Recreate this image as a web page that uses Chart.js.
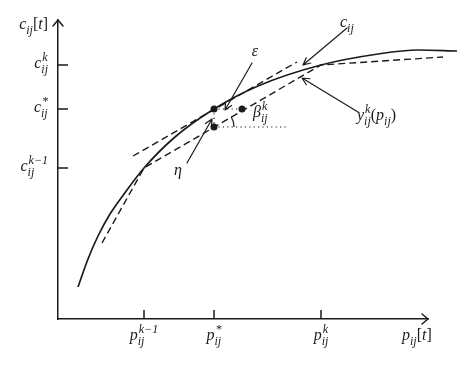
<!DOCTYPE html>
<html><head><meta charset="utf-8">
<script src="https://cdn.jsdelivr.net/npm/chart.js@4"></script>
<style>html,body{margin:0;padding:0;background:#fff}canvas{display:block}</style>
</head><body>
<canvas id="c" width="474" height="366"></canvas>
<script>
// ---- data (schematic units: x = p_ij, y = c_ij) ----
const curveP   = [20, 30, 40, 52, 66, 86, 117, 156, 200, 263, 320, 360, 399];
const curveC   = [32, 60, 83, 105, 125, 151, 182, 210, 233, 254, 265, 269, 268];
const tangentP = [75, 239];
const tangentC = [163, 257];
const approxP  = [44, 86, 263, 385];
const approxC  = [76, 151, 254, 262];
const dotP     = [156, 156, 184];
const dotC     = [210, 192, 210];
const hLine1P  = [156, 184];
const hLine1C  = [210, 210];
const hLine2P  = [156, 229];
const hLine2C  = [192, 192];
const vLineP   = [156, 156];
const vLineC   = [210, 192];
const xTickVals = [86, 156, 263];
const yTickVals = [151, 210, 254];
const xTickLabels = [
  [{b:'p', sup:'k\u22121', sub:'ij'}],
  [{b:'p', sup:'*', sub:'ij'}],
  [{b:'p', sup:'k', sub:'ij'}]
];
const yTickLabels = [
  [{b:'c', sup:'k\u22121', sub:'ij'}],
  [{b:'c', sup:'*', sub:'ij'}],
  [{b:'c', sup:'k', sub:'ij'}]
];
const xAxisTitle = [{b:'p', sub:'ij'}, {b:'[', up:true}, {b:'t'}, {b:']', up:true}];
const yAxisTitle = [{b:'c', sub:'ij'}, {b:'[', up:true}, {b:'t'}, {b:']', up:true}];

// annotations: label anchor + arrow (from -> to), in data units
const notes = [
  {text:[{b:'c', sub:'ij'}], at:[282, 292], align:'left',
   from:[289, 291], to:[245, 254]},
  {text:[{b:'\u03b5'}], at:[197, 263], align:'center',
   from:[194, 256], to:[167, 209]},
  {text:[{b:'\u03b2', sup:'k', sub:'ij'}], at:[195, 202], align:'left'},
  {text:[{b:'y', sup:'k', sub:'ij'}, {b:'(', up:true}, {b:'p', sub:'ij'}, {b:')', up:true}], at:[299, 199], align:'left',
   from:[300, 207], to:[244, 241]},
  {text:[{b:'\u03b7'}], at:[120, 144], align:'center',
   from:[129, 156], to:[154, 200]}
];

const ink = '#1b1b1b';
const SERIF = '"Liberation Serif","DejaVu Serif",serif';
function fnt(sz, it){ return (it ? 'italic ' : '') + sz + 'px ' + SERIF; }

function layoutMath(ctx, tokens, size){
  let w = 0;
  const ss = Math.round(size*0.74);
  for (const t of tokens){
    ctx.font = fnt(size, !t.up);
    w += ctx.measureText(t.b).width;
    let sw = 0;
    ctx.font = fnt(ss, true);
    if (t.sup) sw = Math.max(sw, ctx.measureText(t.sup).width + 1);
    if (t.sub) sw = Math.max(sw, ctx.measureText(t.sub).width);
    w += sw;
  }
  return w;
}
function drawMath(ctx, tokens, x, y, align, size){
  size = size || 16;
  const ss = Math.round(size*0.74);
  const w = layoutMath(ctx, tokens, size);
  let cx = align === 'right' ? x - w : align === 'center' ? x - w/2 : x;
  ctx.save();
  ctx.fillStyle = ink; ctx.textAlign = 'left'; ctx.textBaseline = 'alphabetic';
  for (const t of tokens){
    ctx.font = fnt(size, !t.up);
    ctx.fillText(t.b, cx, y);
    cx += ctx.measureText(t.b).width;
    ctx.font = fnt(ss, true);
    let sw = 0;
    if (t.sup){ ctx.fillText(t.sup, cx + 1, y - 7); sw = Math.max(sw, ctx.measureText(t.sup).width + 1); }
    if (t.sub){ ctx.fillText(t.sub, cx, y + 5); sw = Math.max(sw, ctx.measureText(t.sub).width); }
    cx += sw;
  }
  ctx.restore();
}
function arrow(ctx, x1, y1, x2, y2, len){
  len = len || 8;
  const a = Math.atan2(y2 - y1, x2 - x1);
  ctx.beginPath();
  ctx.moveTo(x1, y1); ctx.lineTo(x2, y2);
  ctx.moveTo(x2 - len*Math.cos(a - 0.45), y2 - len*Math.sin(a - 0.45));
  ctx.lineTo(x2, y2);
  ctx.lineTo(x2 - len*Math.cos(a + 0.45), y2 - len*Math.sin(a + 0.45));
  ctx.stroke();
}

const decor = {
  id: 'decor',
  afterDraw(chart){
    const ctx = chart.ctx, xs = chart.scales.x, ys = chart.scales.y, A = chart.chartArea;
    const X = v => xs.getPixelForValue(v), Y = v => ys.getPixelForValue(v);
    ctx.save();
    ctx.strokeStyle = ink; ctx.lineCap = 'round'; ctx.lineJoin = 'round';
    // axis arrowheads
    ctx.lineWidth = 1.5;
    ctx.beginPath();
    ctx.moveTo(A.right - 6, A.bottom - 5); ctx.lineTo(A.right, A.bottom); ctx.lineTo(A.right - 6, A.bottom + 5);
    ctx.moveTo(A.left - 5, A.top + 6); ctx.lineTo(A.left, A.top); ctx.lineTo(A.left + 5, A.top + 6);
    ctx.stroke();
    // inward tick marks
    ctx.lineCap = 'butt';
    ctx.beginPath();
    xTickVals.forEach(v => { ctx.moveTo(X(v), A.bottom); ctx.lineTo(X(v), A.bottom - 9); });
    yTickVals.forEach(v => { ctx.moveTo(A.left, Y(v)); ctx.lineTo(A.left + 10, Y(v)); });
    ctx.stroke();
    // tick labels
    xTickVals.forEach((v, i) => drawMath(ctx, xTickLabels[i], X(v), A.bottom + 21, 'center'));
    yTickVals.forEach((v, i) => drawMath(ctx, yTickLabels[i], A.left - 10, Y(v) + 3, 'right'));
    drawMath(ctx, xAxisTitle, A.right - 26, A.bottom + 21, 'left');
    drawMath(ctx, yAxisTitle, A.left - 10, A.top + 9, 'right');
    // angle arc beta at eta point
    const cx = X(dotP[1]), cy = Y(dotC[1]);
    const ang = Math.atan2(Y(approxC[2]) - Y(approxC[1]), X(approxP[2]) - X(approxP[1]));
    ctx.lineWidth = 1.2;
    ctx.beginPath(); ctx.arc(cx, cy, 20, ang, 0); ctx.stroke();
    // annotations
    ctx.lineCap = 'round';
    notes.forEach(n => {
      drawMath(ctx, n.text, X(n.at[0]), Y(n.at[1]), n.align);
      if (n.from) arrow(ctx, X(n.from[0]), Y(n.from[1]), X(n.to[0]), Y(n.to[1]));
    });
    ctx.restore();
  }
};

const pts = (xa, ya) => xa.map((x, i) => ({x, y: ya[i]}));
const dotted = (xa, ya) => ({data: pts(xa, ya), showLine: true, borderColor: ink, borderWidth: 1.2,
  borderDash: [1.2, 3.2], pointRadius: 0, clip: false});

new Chart(document.getElementById('c'), {
  type: 'scatter',
  data: {
    datasets: [
      {data: pts(curveP, curveC), showLine: true, borderColor: ink, borderWidth: 1.7,
       pointRadius: 0, cubicInterpolationMode: 'monotone', clip: false},
      {data: pts(tangentP, tangentC), showLine: true, borderColor: ink, borderWidth: 1.4,
       borderDash: [7, 4], pointRadius: 0, clip: false},
      {data: pts(approxP, approxC), showLine: true, borderColor: ink, borderWidth: 1.4,
       borderDash: [7, 4], pointRadius: 0, tension: 0, clip: false},
      dotted(hLine1P, hLine1C),
      dotted(hLine2P, hLine2C),
      dotted(vLineP, vLineC),
      {data: pts(dotP, dotC), showLine: false, pointRadius: 3.5, pointBackgroundColor: ink,
       pointBorderWidth: 0, clip: false}
    ]
  },
  options: {
    responsive: false, animation: false, events: [],
    layout: {padding: {left: 58, right: 46, top: 20, bottom: 47}, autoPadding: false},
    plugins: {legend: {display: false}, tooltip: {enabled: false}},
    scales: {
      x: {type: 'linear', min: 0, max: 370, grid: {display: false, drawTicks: false},
          ticks: {display: false}, border: {display: true, color: ink, width: 1.5}},
      y: {type: 'linear', min: 0, max: 299, grid: {display: false, drawTicks: false},
          ticks: {display: false}, border: {display: true, color: ink, width: 1.5}}
    }
  },
  plugins: [decor]
});
</script>
</body></html>
